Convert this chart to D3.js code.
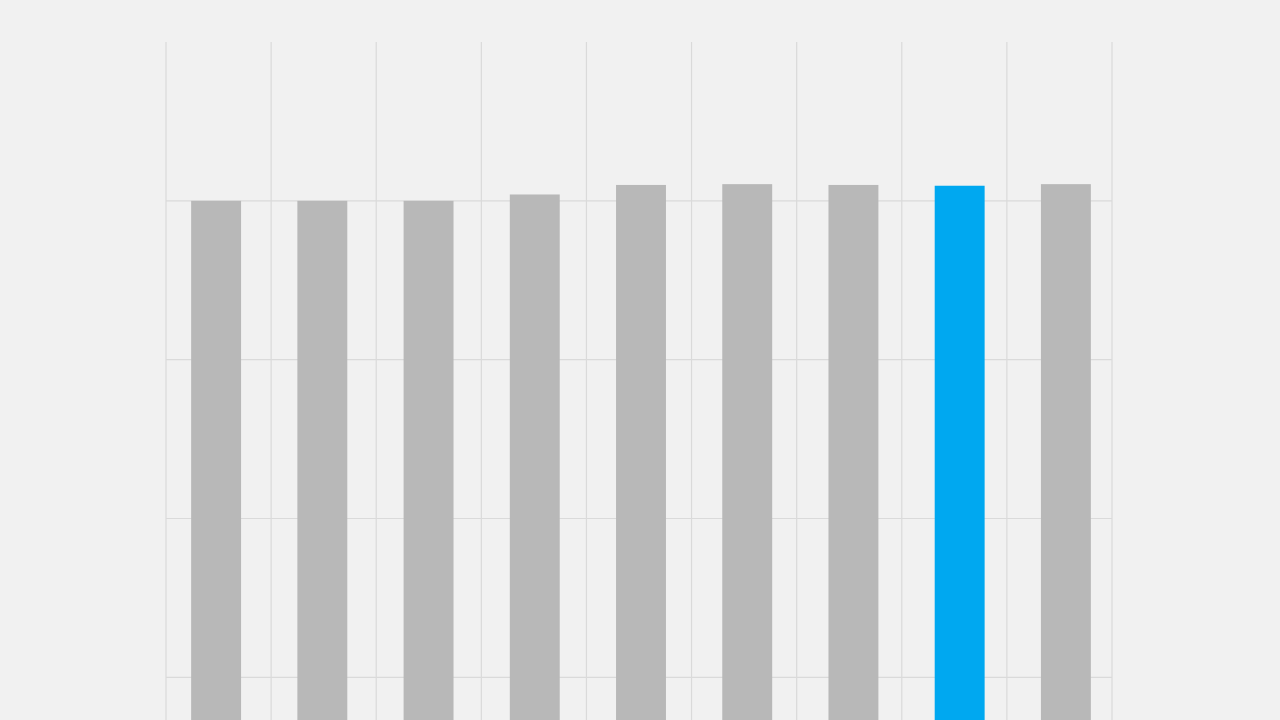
<!DOCTYPE html>
<html>
<head>
<meta charset="utf-8">
<script src="https://cdn.jsdelivr.net/npm/d3@7"></script>
<style>
  html, body { margin: 0; padding: 0; background: #f1f1f1; }
  svg { display: block; }
</style>
</head>
<body>
<svg id="chart" width="1280" height="720"></svg>
<script>
const categories = ["1", "2", "3", "4", "5", "6", "7", "8", "9"];
const values = [100, 100, 100, 100.8, 102, 102.1, 102, 101.9, 102.1];
const highlighted = ["8"];
const yTicks = [40, 60, 80, 100];

const svg = d3.select("#chart");
const W = 1280, H = 720;
svg.append("rect").attr("width", W).attr("height", H).attr("fill", "#f1f1f1");

// grid columns
const xGrid = d3.scaleBand().domain(categories).range([166, 1112]).padding(0);
// bar placement (bars sit slightly wider-spread than the grid in the reference)
const x = d3.scaleBand().domain(categories).range([163, 1119]).paddingInner(0.53).paddingOuter(0.265);
const y = d3.scaleLinear().domain([0, 120]).range([995, 42]);

const grid = svg.append("g").attr("stroke", "#dadada").attr("stroke-width", 1.2);
const edges = categories.map(c => xGrid(c)).concat([xGrid(categories[categories.length - 1]) + xGrid.bandwidth()]);
grid.selectAll("line.v").data(edges).join("line")
  .attr("class", "v")
  .attr("x1", d => d).attr("x2", d => d)
  .attr("y1", y(120)).attr("y2", H + 10);
grid.selectAll("line.h").data(yTicks).join("line")
  .attr("class", "h")
  .attr("x1", 166).attr("x2", 1112)
  .attr("y1", d => y(d)).attr("y2", d => y(d));

svg.append("g").selectAll("rect").data(categories).join("rect")
  .attr("x", c => x(c))
  .attr("width", x.bandwidth())
  .attr("y", (c, i) => y(values[i]))
  .attr("height", (c, i) => y(0) - y(values[i]))
  .attr("fill", c => highlighted.includes(c) ? "#00a8f0" : "#b8b8b8");
</script>
</body>
</html>
